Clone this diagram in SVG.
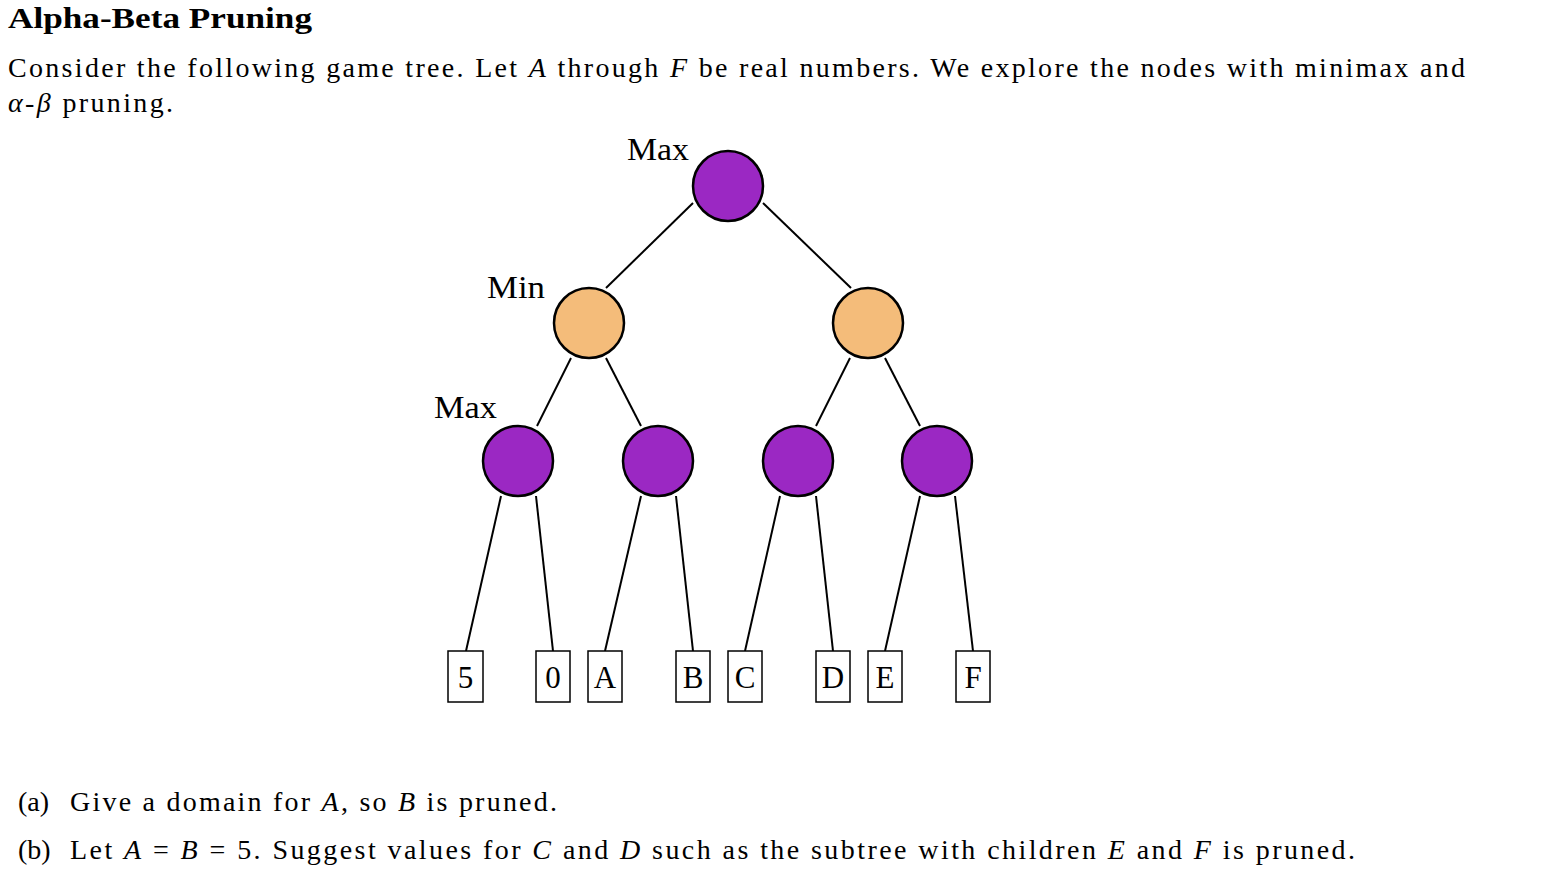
<svg xmlns="http://www.w3.org/2000/svg" width="1556" height="888" viewBox="0 0 1556 888">
<style>
text{font-family:"Liberation Serif","DejaVu Serif",serif;fill:#000}
.b{font-size:28px}
.t{font-size:29px;font-weight:bold}
.l{font-size:31px}
.lf{font-size:31px;text-anchor:middle}
.mx{fill:#9b28c3;stroke:#000;stroke-width:2.5}
.mn{fill:#f4bc7a;stroke:#000;stroke-width:2.5}
.box{fill:#fff;stroke:#000;stroke-width:1.5}
#edges line{stroke:#000;stroke-width:2}
</style>
<rect width="1556" height="888" fill="#fff"/>
<text class="t" x="8" y="28" textLength="304" lengthAdjust="spacingAndGlyphs">Alpha-Beta Pruning</text>
<text class="b" x="8" y="77" textLength="1457" lengthAdjust="spacing">Consider the following game tree. Let <tspan font-style="italic">A</tspan> through <tspan font-style="italic">F</tspan> be real numbers. We explore the nodes with minimax and</text>
<text class="b" x="8" y="112" textLength="165" lengthAdjust="spacing"><tspan font-style="italic">α</tspan>-<tspan font-style="italic">β</tspan> pruning.</text>
<g id="edges">
<line x1="693" y1="203" x2="606" y2="288"/><line x1="763" y1="203" x2="851" y2="288"/>
<line x1="571" y1="358" x2="537" y2="426"/><line x1="606" y1="358" x2="641" y2="426"/>
<line x1="850" y1="358" x2="816" y2="426"/><line x1="885" y1="358" x2="920" y2="426"/>
<line x1="501" y1="496" x2="466" y2="651"/><line x1="536" y1="496" x2="553" y2="651"/>
<line x1="641" y1="496" x2="605" y2="651"/><line x1="676" y1="496" x2="693" y2="651"/>
<line x1="780" y1="496" x2="745" y2="651"/><line x1="816" y1="496" x2="833" y2="651"/>
<line x1="920" y1="496" x2="885" y2="651"/><line x1="955" y1="496" x2="973" y2="651"/>
</g>
<g id="root"><circle class="mx" cx="728" cy="186" r="35"/><text class="l" x="627" y="160" textLength="62" lengthAdjust="spacingAndGlyphs">Max</text></g>
<g id="min1"><circle class="mn" cx="589" cy="323" r="35"/><text class="l" x="487" y="298" textLength="58" lengthAdjust="spacingAndGlyphs">Min</text></g>
<g id="min2"><circle class="mn" cx="868" cy="323" r="35"/></g>
<g id="max1"><circle class="mx" cx="518" cy="461" r="35"/><text class="l" x="434" y="418" textLength="63" lengthAdjust="spacingAndGlyphs">Max</text></g>
<g id="max2"><circle class="mx" cx="658" cy="461" r="35"/></g>
<g id="max3"><circle class="mx" cx="798" cy="461" r="35"/></g>
<g id="max4"><circle class="mx" cx="937" cy="461" r="35"/></g>
<g id="leaf5"><rect class="box" x="448" y="651" width="35" height="51"/><text class="lf" x="465.5" y="688">5</text></g>
<g id="leaf0"><rect class="box" x="536" y="651" width="34" height="51"/><text class="lf" x="553" y="688">0</text></g>
<g id="leafA"><rect class="box" x="588" y="651" width="34" height="51"/><text class="lf" x="605" y="688">A</text></g>
<g id="leafB"><rect class="box" x="676" y="651" width="34" height="51"/><text class="lf" x="693" y="688">B</text></g>
<g id="leafC"><rect class="box" x="728" y="651" width="34" height="51"/><text class="lf" x="745" y="688">C</text></g>
<g id="leafD"><rect class="box" x="816" y="651" width="34" height="51"/><text class="lf" x="833" y="688">D</text></g>
<g id="leafE"><rect class="box" x="868" y="651" width="34" height="51"/><text class="lf" x="885" y="688">E</text></g>
<g id="leafF"><rect class="box" x="956" y="651" width="34" height="51"/><text class="lf" x="973" y="688">F</text></g>
<text class="b" x="18" y="811">(a)</text>
<text class="b" x="70" y="811" textLength="487" lengthAdjust="spacing">Give a domain for <tspan font-style="italic">A</tspan>, so <tspan font-style="italic">B</tspan> is pruned.</text>
<text class="b" x="18" y="859">(b)</text>
<text class="b" x="70" y="859" textLength="1285" lengthAdjust="spacing">Let <tspan font-style="italic">A</tspan> = <tspan font-style="italic">B</tspan> = 5. Suggest values for <tspan font-style="italic">C</tspan> and <tspan font-style="italic">D</tspan> such as the subtree with children <tspan font-style="italic">E</tspan> and <tspan font-style="italic">F</tspan> is pruned.</text>
</svg>
